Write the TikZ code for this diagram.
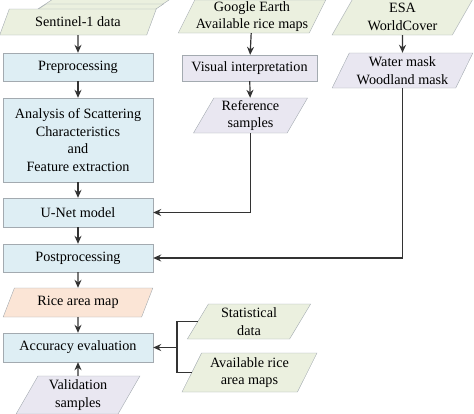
\documentclass[tikz,border=0pt]{standalone}
\usepackage{fontspec}
\setmainfont{Liberation Serif}
\usetikzlibrary{shapes.geometric,arrows.meta}
\definecolor{bluefill}{HTML}{DEEEF4}
\definecolor{greenfill}{HTML}{EBF0DF}
\definecolor{purplefill}{HTML}{E9E7F1}
\definecolor{orangefill}{HTML}{FBE5D6}
\definecolor{edgegray}{HTML}{A3AAB0}
\tikzset{
	procbox/.style={draw=edgegray,fill=bluefill,minimum width=150pt,align=center,inner sep=1pt},
	databox/.style={trapezium,trapezium left angle=63,trapezium right angle=117,trapezium stretches=true,draw=edgegray,align=center,inner sep=1pt},
	flow/.style={-{Stealth[length=8pt,width=7pt]},line width=1.2pt,draw=black!80},
}

\begin{document}
\begin{tikzpicture}[x=1pt,y=-1pt,font=\fontsize{14.2}{17.5}\selectfont]
\useasboundingbox (0,0) rectangle (474,413);
%left column
\node[databox,fill=greenfill,minimum width=157pt,minimum height=26pt] (s2) at (92,12) {};
\node[databox,fill=greenfill,minimum width=157pt,minimum height=26pt] (s1) at (85,17) {};
\node[databox,fill=greenfill,minimum width=157pt,minimum height=26pt] (sent) at (78,22) {Sentinel-1 data};
\node[procbox,minimum height=28pt] (pre) at (78,67) {Preprocessing};
\node[procbox,minimum height=84pt] (feat) at (78,140) {Analysis of Scattering\\Characteristics\\and\\Feature extraction};
\node[procbox,minimum height=29pt] (unet) at (78,212.5) {U-Net model};
\node[procbox,minimum height=28pt] (post) at (78,258) {Postprocessing};
\node[databox,fill=orangefill,minimum width=150pt,minimum height=29pt] (rice) at (78,302.5) {Rice area map};
\node[procbox,minimum height=29pt] (acc) at (78,347.5) {Accuracy evaluation};
\node[databox,fill=purplefill,minimum width=124pt,minimum height=38pt] (valid) at (78,395) {Validation\\samples};
%middle column
\node[databox,fill=greenfill,minimum width=140pt,minimum height=33pt] (ge) at (252,16.5) {Google Earth\\Available rice maps};
\node[procbox,fill=purplefill,minimum width=135pt,minimum height=26pt] (visual) at (249.5,68) {Visual interpretation};
\node[databox,fill=purplefill,minimum width=115pt,minimum height=35pt] (ref) at (250.5,115.5) {Reference\\samples};
\node[databox,fill=greenfill,minimum width=124pt,minimum height=35pt] (stat) at (249,321.5) {Statistical\\data};
\node[databox,fill=greenfill,minimum width=135pt,minimum height=39pt] (avail) at (249.5,372.5) {Available rice\\area maps};
%right column
\node[databox,fill=greenfill,minimum width=141pt,minimum height=36pt] (esa) at (402.5,17) {ESA\\WorldCover};
\node[databox,fill=purplefill,minimum width=141pt,minimum height=35pt] (mask) at (402.5,70.5) {Water mask\\Woodland mask};
%connectors
\draw[flow] (sent) -- (pre);
\draw[flow] (pre) -- (feat);
\draw[flow] (feat) -- (unet);
\draw[flow] (unet) -- (post);
\draw[flow] (post) -- (rice);
\draw[flow] (rice) -- (acc);
\draw[flow] (valid) -- (acc);
\draw[flow] (ge) -- (visual);
\draw[flow] (visual) -- (ref);
\draw[flow] (esa) -- (mask);
\draw[flow] (ref.south) |- (unet.east);
\draw[flow] (mask.south) |- (post.east);
\coordinate (join) at (177,347.5);
\draw[line width=1.2pt,black!80] (stat.west) -| (join) |- (avail.west);
\draw[flow] (join) -- (acc.east);
\end{tikzpicture}
\end{document}
